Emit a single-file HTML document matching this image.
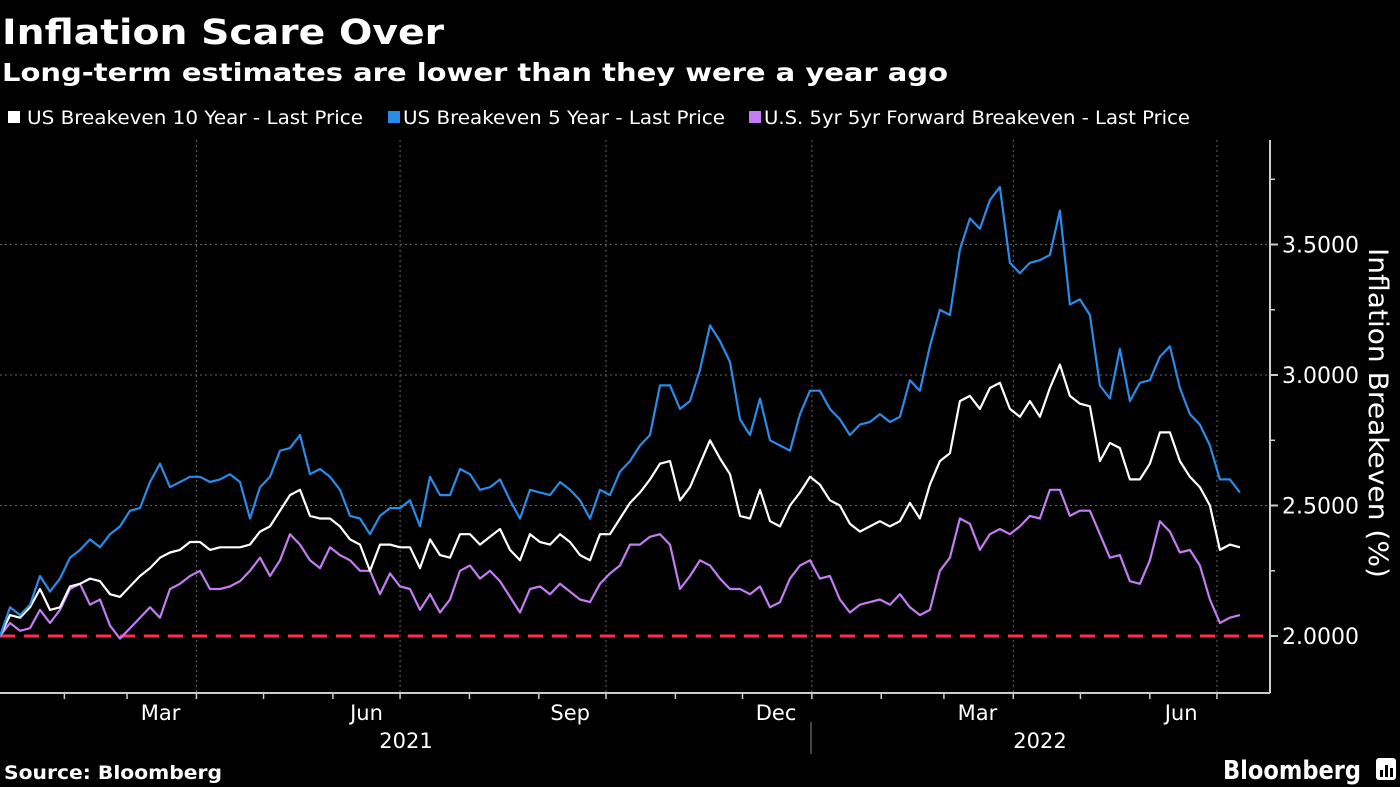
<!DOCTYPE html>
<html><head><meta charset="utf-8"><style>
html,body{margin:0;padding:0;background:#000;}
svg{display:block;font-family:"DejaVu Sans","Liberation Sans",sans-serif;}
</style></head><body>
<svg id="chart" width="1400" height="787" viewBox="0 0 1400 787">
<rect x="0" y="0" width="1400" height="787" fill="#000"/>
<text x="2" y="44" font-size="35" font-weight="bold" fill="#fff" textLength="442" lengthAdjust="spacingAndGlyphs">Inflation Scare Over</text>
<text x="2" y="81" font-size="25" font-weight="bold" fill="#fff" textLength="946" lengthAdjust="spacingAndGlyphs">Long-term estimates are lower than they were a year ago</text>
<g>
<g><rect x="8" y="111" width="12" height="12" fill="#fff"/><text x="27" y="124" font-size="19" fill="#fff" textLength="336" lengthAdjust="spacingAndGlyphs">US Breakeven 10 Year - Last Price</text></g>
<g><rect x="388" y="111" width="12" height="12" fill="#2a8be8"/><text x="403" y="124" font-size="19" fill="#fff" textLength="322" lengthAdjust="spacingAndGlyphs">US Breakeven 5 Year - Last Price</text></g>
<g><rect x="749" y="111" width="12" height="12" fill="#c47cf2"/><text x="764" y="124" font-size="19" fill="#fff" textLength="426" lengthAdjust="spacingAndGlyphs">U.S. 5yr 5yr Forward Breakeven - Last Price</text></g>
</g>
<g id="grid"></g>
<g id="axes"></g>
<g id="series"></g>
<text x="0" y="0" transform="translate(1369,413) rotate(90)" text-anchor="middle" font-size="27" fill="#fff" textLength="330" lengthAdjust="spacingAndGlyphs">Inflation Breakeven (%)</text>
<text x="406" y="748" text-anchor="middle" font-size="21" fill="#fff">2021</text>
<text x="1040" y="748" text-anchor="middle" font-size="21" fill="#fff">2022</text>
<line x1="811" y1="722" x2="811" y2="754" stroke="#888" stroke-width="1"/>
<text x="4" y="779" font-size="19" font-weight="bold" fill="#fff" textLength="218" lengthAdjust="spacingAndGlyphs">Source: Bloomberg</text>
<text x="1223" y="779" font-size="26" font-weight="bold" fill="#fff" textLength="138" lengthAdjust="spacingAndGlyphs">Bloomberg</text>
<g><rect x="1376" y="758" width="20" height="22" rx="3" fill="#fff"/><rect x="1380" y="770" width="3" height="7" fill="#000"/><rect x="1385" y="765" width="3" height="12" fill="#000"/><rect x="1390" y="768" width="3" height="9" fill="#000"/></g>
</svg>
<script>
const categoriesStart = "2021-01-04";
const yTicks = [2.0, 2.5, 3.0, 3.5];
const yTickLabels = ["2.0000", "2.5000", "3.0000", "3.5000"];
const monthTicks = ["2021-02-01","2021-03-01","2021-04-01","2021-05-01","2021-06-01","2021-07-01","2021-08-01","2021-09-01","2021-10-01","2021-11-01","2021-12-01","2022-01-01","2022-02-01","2022-03-01","2022-04-01","2022-05-01","2022-06-01","2022-07-01"];
const gridMonths = ["2021-04-01","2021-07-01","2021-10-01","2022-01-01","2022-04-01","2022-07-01"];
const monthLabels = ["Mar","Jun","Sep","Dec","Mar","Jun"];
const monthLabelDates = ["2021-03-16","2021-06-16","2021-09-15","2021-12-16","2022-03-16","2022-06-15"];
const referenceLevel = 2.0;
const be5y = [2.00,2.11,2.08,2.12,2.23,2.17,2.22,2.30,2.33,2.37,2.34,2.39,2.42,2.48,2.49,2.59,2.66,2.57,2.59,2.61,2.61,2.59,2.60,2.62,2.59,2.45,2.57,2.61,2.71,2.72,2.77,2.62,2.64,2.61,2.56,2.46,2.45,2.39,2.46,2.49,2.49,2.52,2.42,2.61,2.54,2.54,2.64,2.62,2.56,2.57,2.60,2.52,2.45,2.56,2.55,2.54,2.59,2.56,2.52,2.45,2.56,2.54,2.63,2.67,2.73,2.77,2.96,2.96,2.87,2.90,3.02,3.19,3.13,3.05,2.83,2.77,2.91,2.75,2.73,2.71,2.85,2.94,2.94,2.87,2.83,2.77,2.81,2.82,2.85,2.82,2.84,2.98,2.94,3.11,3.25,3.23,3.48,3.60,3.56,3.67,3.72,3.43,3.39,3.43,3.44,3.46,3.63,3.27,3.29,3.23,2.96,2.91,3.10,2.90,2.97,2.98,3.07,3.11,2.95,2.85,2.81,2.73,2.60,2.60,2.55];
const be10y = [2.00,2.08,2.07,2.11,2.18,2.10,2.11,2.19,2.20,2.22,2.21,2.16,2.15,2.19,2.23,2.26,2.30,2.32,2.33,2.36,2.36,2.33,2.34,2.34,2.34,2.35,2.40,2.42,2.48,2.54,2.56,2.46,2.45,2.45,2.42,2.37,2.35,2.25,2.35,2.35,2.34,2.34,2.26,2.37,2.31,2.30,2.39,2.39,2.35,2.38,2.41,2.33,2.29,2.39,2.36,2.35,2.39,2.36,2.31,2.29,2.39,2.39,2.45,2.51,2.55,2.60,2.66,2.67,2.52,2.57,2.66,2.75,2.68,2.62,2.46,2.45,2.56,2.44,2.42,2.50,2.55,2.61,2.58,2.52,2.50,2.43,2.40,2.42,2.44,2.42,2.44,2.51,2.45,2.58,2.67,2.70,2.90,2.92,2.87,2.95,2.97,2.87,2.84,2.90,2.84,2.95,3.04,2.92,2.89,2.88,2.67,2.74,2.72,2.60,2.60,2.66,2.78,2.78,2.67,2.61,2.57,2.50,2.33,2.35,2.34];
const fwd5y5y = [2.00,2.05,2.02,2.03,2.10,2.05,2.10,2.18,2.20,2.12,2.14,2.04,1.99,2.03,2.07,2.11,2.07,2.18,2.20,2.23,2.25,2.18,2.18,2.19,2.21,2.25,2.30,2.23,2.29,2.39,2.35,2.29,2.26,2.34,2.31,2.29,2.25,2.25,2.16,2.24,2.19,2.18,2.10,2.16,2.09,2.14,2.25,2.27,2.22,2.25,2.21,2.15,2.09,2.18,2.19,2.16,2.20,2.17,2.14,2.13,2.20,2.24,2.27,2.35,2.35,2.38,2.39,2.35,2.18,2.23,2.29,2.27,2.22,2.18,2.18,2.16,2.19,2.11,2.13,2.22,2.27,2.29,2.22,2.23,2.14,2.09,2.12,2.13,2.14,2.12,2.16,2.11,2.08,2.10,2.25,2.30,2.45,2.43,2.33,2.39,2.41,2.39,2.42,2.46,2.45,2.56,2.56,2.46,2.48,2.48,2.39,2.30,2.31,2.21,2.20,2.29,2.44,2.40,2.32,2.33,2.27,2.14,2.05,2.07,2.08];
const SAMPLE_DAYS = 4.468; // spacing of samples in days

const NS = "http://www.w3.org/2000/svg";
const plotLeft = 0, plotRight = 1270, plotTop = 140, plotBottom = 693;
const origin = new Date("2021-01-01T00:00:00Z").getTime();
function dayOf(s){ return (new Date(s+"T00:00:00Z").getTime()-origin)/86400000; }
function xDay(d){ return -5 + 2.238*d; }
const startDay = dayOf(categoriesStart);
function xIndex(i){ return xDay(startDay + i*SAMPLE_DAYS) - xDay(startDay) ; }
function yScale(v){ return 636 - (v-2.0)*261; }
function mk(tag, attrs, parent){ const e=document.createElementNS(NS,tag); for(const k in attrs) e.setAttribute(k,attrs[k]); parent.appendChild(e); return e; }

const grid = document.getElementById('grid');
const axes = document.getElementById('axes');
const series = document.getElementById('series');

yTicks.forEach((t,k)=>{
  const y = yScale(t);
  if (t !== referenceLevel) {
    const g = mk('line',{x1:plotLeft,x2:plotRight,y1:y,y2:y,stroke:'#666','stroke-width':1,'stroke-dasharray':'2,3'},grid);
    
    
  }
  const tk = mk('line',{x1:plotRight,x2:plotRight+8,y1:y,y2:y,stroke:'#ccc','stroke-width':2},axes);
  
  
  const lb = mk('text',{x:plotRight+12,y:y+8,'font-size':22,fill:'#fff'},axes);
  lb.textContent = yTickLabels[k];
  
  
});
[2.25,2.75,3.25,3.75].forEach(t=>{
  const y=yScale(t);
  const tk = mk('line',{x1:plotRight,x2:plotRight+5,y1:y,y2:y,stroke:'#ccc','stroke-width':1.5},axes);
  
  
});
gridMonths.forEach(m=>{
  const x = xDay(dayOf(m));
  const g = mk('line',{x1:x,x2:x,y1:plotTop,y2:plotBottom,stroke:'#666','stroke-width':1,'stroke-dasharray':'2,3'},grid);
  
  
});
const yAxis = mk('line',{x1:plotRight,x2:plotRight,y1:plotTop,y2:plotBottom,stroke:'#ccc','stroke-width':2},axes);


const xAxis = mk('line',{x1:0,x2:plotRight,y1:plotBottom,y2:plotBottom,stroke:'#ccc','stroke-width':2},axes);


monthTicks.forEach(m=>{
  const x = xDay(dayOf(m));
  const tk = mk('line',{x1:x,x2:x,y1:plotBottom,y2:plotBottom+6,stroke:'#ccc','stroke-width':1.5},axes);
  
  
});
monthLabels.forEach((l,k)=>{
  const x = xDay(dayOf(monthLabelDates[k]));
  const t = mk('text',{x:x,y:720,'text-anchor':'middle','font-size':21,fill:'#fff'},axes);
  t.textContent = l;
  
  
});

const ref = mk('line',{x1:0,x2:plotRight,y1:yScale(referenceLevel),y2:yScale(referenceLevel),stroke:'#ff2d4f','stroke-width':3,'stroke-dasharray':'15,9'},series);



function drawLine(vals, color, name){
  const pts = vals.map((v,i)=>xIndex(i).toFixed(1)+','+yScale(v).toFixed(1)).join(' ');
  const p = mk('polyline',{points:pts,fill:'none',stroke:color,'stroke-width':2.2,'stroke-linejoin':'round'},series);
  
  
}
drawLine(fwd5y5y,'#c47cf2','line-5y5y-forward');
drawLine(be10y,'#ffffff','line-10y-breakeven');
drawLine(be5y,'#2a8be8','line-5y-breakeven');
</script>
</body></html>
